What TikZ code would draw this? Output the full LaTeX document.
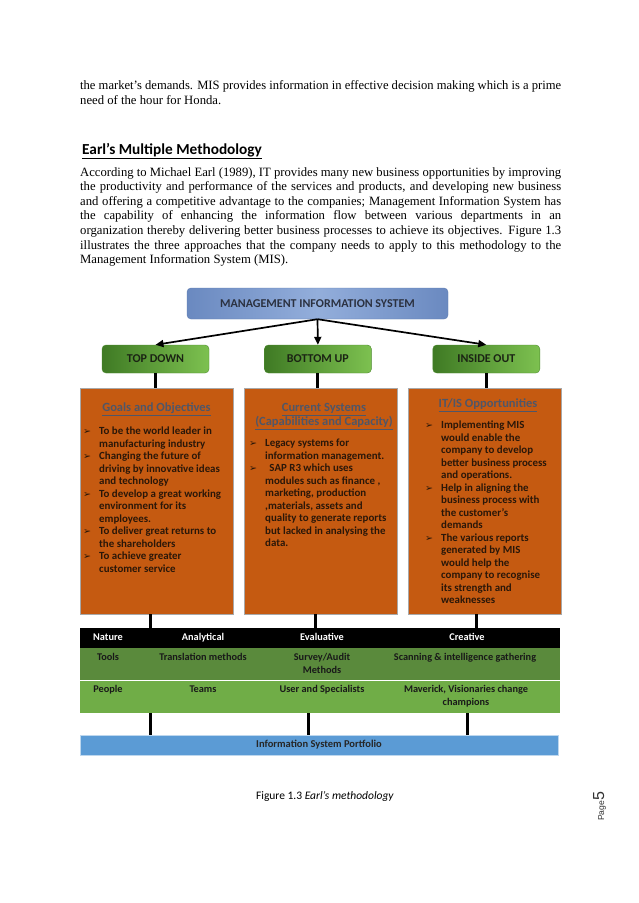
\documentclass[tikz,border=0pt]{standalone}
\usepackage{fontspec}
\usepackage{graphicx}
\usepackage{tikz}
\usetikzlibrary{arrows.meta,positioning}
\setmainfont{Liberation Serif}
\newfontfamily\calib{Carlito}
\newfontfamily\pagenofont{Liberation Sans}
\newfontfamily\dingfont{DejaVu Sans}
\definecolor{MISLight}{HTML}{93AEDB}
\definecolor{MISDark}{HTML}{6A89C0}
\definecolor{MISEdge}{HTML}{5D7BB0}
\definecolor{MISText}{HTML}{2B3140}
\definecolor{ApprDark}{HTML}{3F7A24}
\definecolor{ApprLight}{HTML}{7DC150}
\definecolor{ApprEdge}{HTML}{4C8A2E}
\definecolor{ApprText}{HTML}{1B2414}
\definecolor{OrFill}{HTML}{C55A11}
\definecolor{OrEdge}{HTML}{A8A8A8}
\definecolor{OrText}{HTML}{2A1709}
\definecolor{OrHead}{HTML}{4F5668}
\definecolor{RowDark}{HTML}{5A8A3C}
\definecolor{RowLight}{HTML}{70AD47}
\definecolor{PortBlue}{HTML}{5B9BD5}
\definecolor{PortEdge}{HTML}{BDD7EE}
\definecolor{PageGrey}{HTML}{333333}

% justified line of body text
\newcommand\jline[1]{\sbox0{#1}\ifdim\wd0>481pt\resizebox{481pt}{\height}{#1}\else\makebox[481pt][s]{#1}\fi}
\newcommand\bul{\makebox[16pt][l]{\dingfont\mdseries\fontsize{9.5}{9.5}\selectfont ➢}}
\newcommand\ind{\hspace*{16pt}}

\begin{document}
\begin{tikzpicture}[x=1pt,y=-1pt,
    txt/.style={anchor=base west,inner sep=0pt,font=\fontsize{12.7}{14.8}\selectfont},
    mis/.style={draw=MISEdge,left color=MISDark,right color=MISDark,middle color=MISLight,rounded corners=4pt,minimum width=261pt,minimum height=31pt,text=MISText,font=\calib\bfseries\fontsize{12}{14}\selectfont},
    appr/.style={draw=ApprEdge,left color=ApprDark,right color=ApprLight,rounded corners=4pt,minimum width=107pt,minimum height=28pt,text=ApprText,font=\calib\bfseries\fontsize{12}{14}\selectfont},
    orbox/.style={draw=OrEdge,fill=OrFill,line width=0.6pt,minimum width=153pt,minimum height=226pt,inner sep=0pt},
    orhead/.style={anchor=base,inner sep=0pt,text=OrHead,align=center,font=\calib\bfseries\fontsize{12.5}{12.5}\selectfont},
    oritems/.style={anchor=north west,inner sep=0pt,text=OrText,align=left,font=\calib\bfseries\fontsize{10.9}{12.5}\selectfont},
    bar/.style={minimum width=480pt,minimum height=20pt,inner sep=0pt},
    hd/.style={anchor=north,inner sep=0pt,text=white,align=center,font=\calib\bfseries\fontsize{10.3}{12.8}\selectfont},
    cell/.style={hd,text=black!90},
    arr/.style={-{Triangle[length=8pt,width=7pt]},line width=1.7pt},
    stem/.style={line width=3pt}
  ]
  \useasboundingbox[fill=white] (0,0) rectangle (638,903);

  % page text
  \node[txt] (l1) at (80,89) {\jline{the market’s demands. MIS provides information in effective decision making which is a prime}};
  \node[txt] (l2) at (80,104) {need of the hour for Honda.};
  \node[txt,font=\calib\bfseries\fontsize{15.3}{17}\selectfont] (head) at (82,154) {\underline{Earl’s Multiple Methodology}};
  \node[txt] (p1) at (80,176) {\jline{According to Michael Earl (1989), IT provides many new business opportunities by improving}};
  \node[txt] (p2) at (80,190.6) {\jline{the productivity and performance of the services and products, and developing new business}};
  \node[txt] (p3) at (80,205.2) {\jline{and offering a competitive advantage to the companies; Management Information System has}};
  \node[txt] (p4) at (80,219.8) {\jline{the capability of enhancing the information flow between various departments in an}};
  \node[txt] (p5) at (80,234.4) {\jline{organization thereby delivering better business processes to achieve its objectives. Figure 1.3}};
  \node[txt] (p6) at (80,249) {\jline{illustrates the three approaches that the company needs to apply to this methodology to the}};
  \node[txt] (p7) at (80,263.6) {Management Information System (MIS).};

  % MIS and the three approaches
  \node[mis] (mis) at (317.5,303.5) {MANAGEMENT INFORMATION SYSTEM};
  \node[appr] (td) at (155.5,359) {TOP DOWN};
  \node[appr,right=55pt of td] (bu) {BOTTOM UP};
  \node[appr,right=61pt of bu] (io) {INSIDE OUT};
  \draw[arr] (mis.south) -- (td.north);
  \draw[arr] (mis.south) -- (bu.north);
  \draw[arr] (mis.south) -- (io.north);

  % orange boxes
  \node[orbox] (goalsbox) at (156.5,501) {};
  \node[orbox,right=11pt of goalsbox] (currbox) {};
  \node[orbox,right=10pt of currbox] (oppbox) {};
  \draw[stem] (td.south) -- (td.south |- goalsbox.north);
  \draw[stem] (bu.south) -- (bu.south |- currbox.north);
  \draw[stem] (io.south) -- (io.south |- oppbox.north);

  \node[orhead] (goals) at (156.5,411.5) {\underline{Goals and Objectives}};
  \node[oritems] (goalsitems) at (83,427) {\bul To be the world leader in\\
    \ind manufacturing industry\\
    \bul Changing the future of\\
    \ind driving by innovative ideas\\
    \ind and technology\\
    \bul To develop a great working\\
    \ind environment for its\\
    \ind employees.\\
    \bul To deliver great returns to\\
    \ind the shareholders\\
    \bul To achieve greater\\
    \ind customer service};

  \node[orhead,anchor=north] (curr) at (324,403) {\underline{Current Systems}\\\underline{(Capabilities and Capacity)}};
  \node[oritems] (curritems) at (249,439) {\bul Legacy systems for\\
    \ind information management.\\
    \bul\, SAP R3 which uses\\
    \ind modules such as finance ,\\
    \ind marketing, production\\
    \ind ,materials, assets and\\
    \ind quality to generate reports\\
    \ind but lacked in analysing the\\
    \ind data.};

  \node[orhead] (opp) at (488,407.5) {\underline{IT/IS Opportunities}};
  \node[oritems] (oppitems) at (425,421) {\bul Implementing MIS\\
    \ind would enable the\\
    \ind company to develop\\
    \ind better business process\\
    \ind and operations.\\
    \bul Help in aligning the\\
    \ind business process with\\
    \ind the customer’s\\
    \ind demands\\
    \bul The various reports\\
    \ind generated by MIS\\
    \ind would help the\\
    \ind company to recognise\\
    \ind its strength and\\
    \ind weaknesses};

  % nature / tools / people table
  \node[bar,fill=black] (natbar) at (320,638) {};
  \node[bar,fill=RowDark,minimum height=32pt,below=0pt of natbar] (toolbar) {};
  \node[bar,fill=RowLight,minimum height=32pt,below=0pt of toolbar] (peoplebar) {};
  \node[bar,fill=PortBlue,draw=PortEdge,line width=1pt,minimum width=478pt,font=\calib\bfseries\fontsize{10.5}{12}\selectfont,text=black!85] (port) at (319,745) {Information System Portfolio};

  \coordinate (s1) at (150,0);
  \coordinate (s2) at (315,0);
  \coordinate (s3) at (476,0);
  \coordinate (s4) at (150,0);
  \coordinate (s5) at (308,0);
  \coordinate (s6) at (467,0);
  \draw[stem] (s1 |- goalsbox.south) -- (s1 |- natbar.north);
  \draw[stem] (s2 |- currbox.south) -- (s2 |- natbar.north);
  \draw[stem] (s3 |- oppbox.south) -- (s3 |- natbar.north);
  \draw[stem] (s4 |- peoplebar.south) -- (s4 |- port.north);
  \draw[stem] (s5 |- peoplebar.south) -- (s5 |- port.north);
  \draw[stem] (s6 |- peoplebar.south) -- (s6 |- port.north);

  \node[hd] (nat) at (108,633.5) {Nature};
  \node[hd] (ana) at (203,633.5) {Analytical};
  \node[hd] (eva) at (322,633.5) {Evaluative};
  \node[hd] (cre) at (467,633.5) {Creative};
  \node[cell] (tools) at (108,653.5) {Tools};
  \node[cell] (trans) at (203,653.5) {Translation methods};
  \node[cell] (surv) at (322,653.5) {Survey/Audit\\Methods};
  \node[cell] (scan) at (465,653.5) {Scanning \& intelligence gathering};
  \node[cell] (people) at (108,685.5) {People};
  \node[cell] (teams) at (203,685.5) {Teams};
  \node[cell] (users) at (322,685.5) {User and Specialists};
  \node[cell] (mav) at (466,685.5) {Maverick, Visionaries change\\champions};

  % caption and page number
  \node[anchor=base,inner sep=0pt,font=\calib\fontsize{11.5}{14}\selectfont] (cap) at (325,799) {Figure 1.3 \textit{Earl’s methodology}};
  \node[rotate=90,anchor=base west,inner sep=0pt,text=PageGrey,font=\pagenofont] (pageno) at (604,821) {\fontsize{8.6}{10}\selectfont Page\fontsize{16}{18}\selectfont 5};
\end{tikzpicture}
\end{document}
